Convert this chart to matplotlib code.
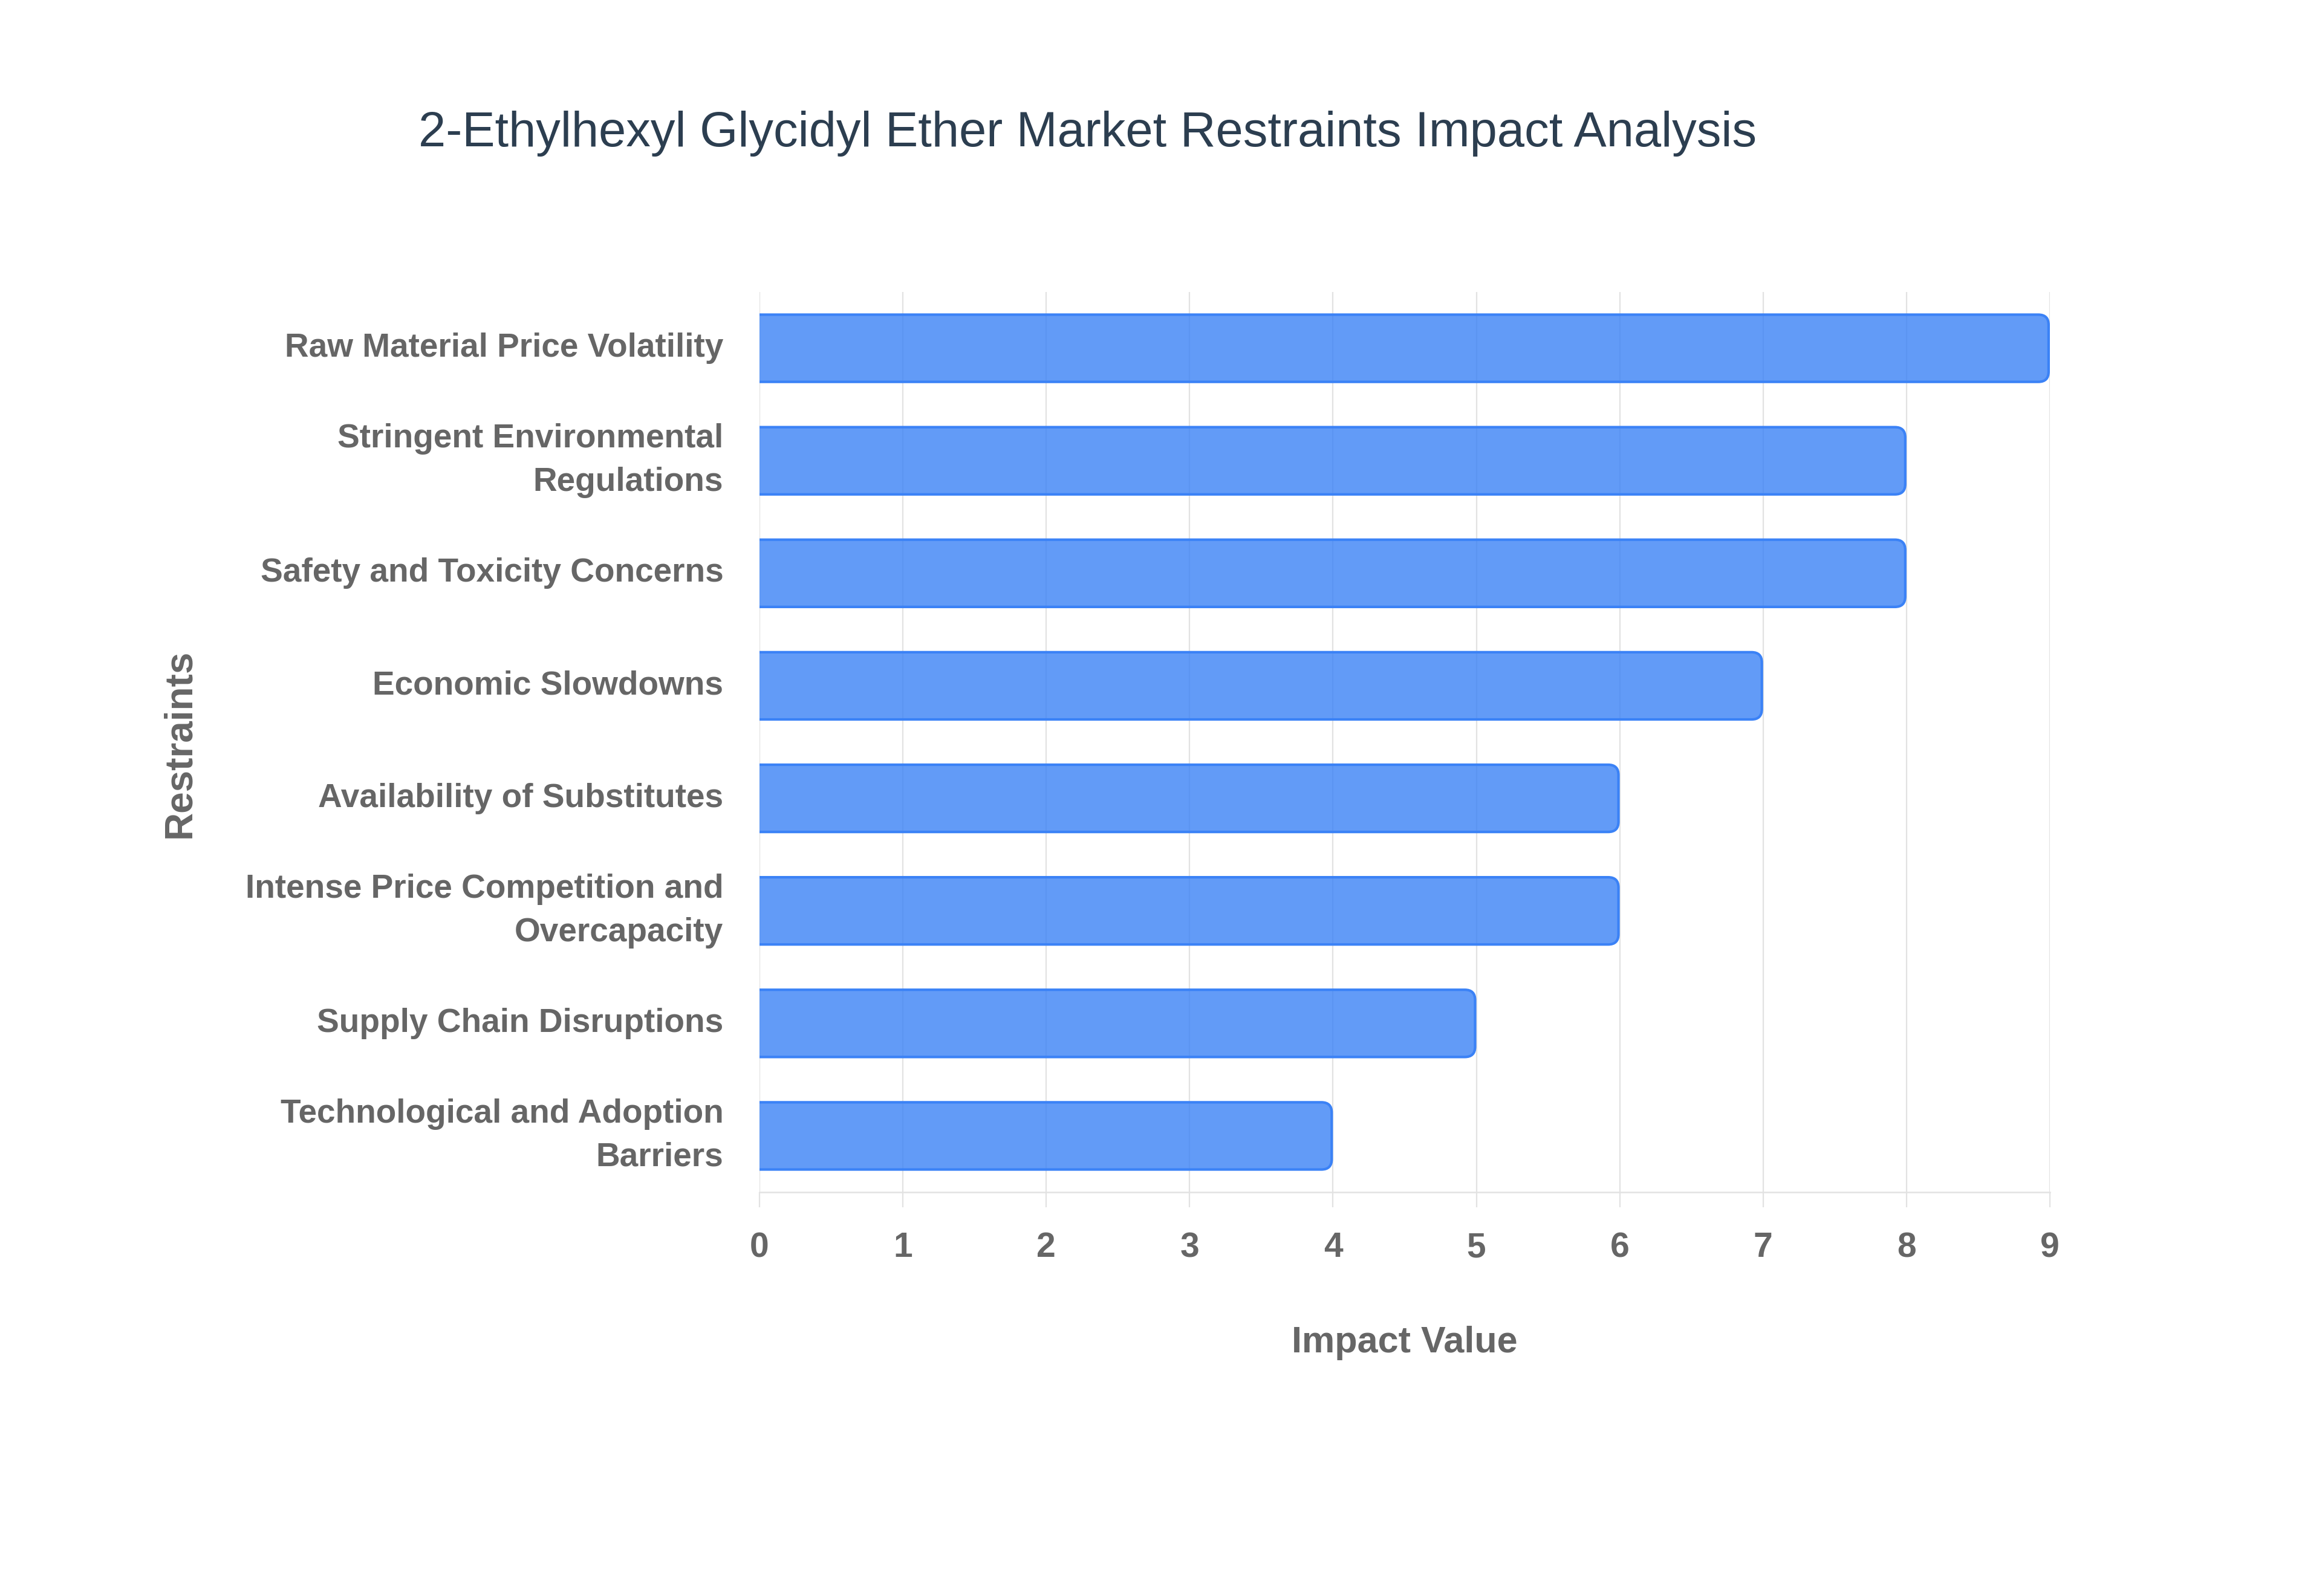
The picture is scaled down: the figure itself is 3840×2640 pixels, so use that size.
import matplotlib
matplotlib.use("Agg")
import matplotlib.pyplot as plt
from matplotlib.patches import FancyBboxPatch

# data (top to bottom)
restraints = [
    "Raw Material Price Volatility",
    "Stringent Environmental\nRegulations",
    "Safety and Toxicity Concerns",
    "Economic Slowdowns",
    "Availability of Substitutes",
    "Intense Price Competition and\nOvercapacity",
    "Supply Chain Disruptions",
    "Technological and Adoption\nBarriers",
]
impact = [9, 8, 8, 7, 6, 6, 5, 4]
x_ticks = list(range(0, 10))

title = "2-Ethylhexyl Glycidyl Ether Market Restraints Impact Analysis"
x_label = "Impact Value"
y_label = "Restraints"

FILL = (59 / 255, 130 / 255, 246 / 255, 0.8)
EDGE = "#3b82f6"
GRID = "#e2e2e2"
TEXT = "#666666"

plt.rcParams["font.family"] = ["Liberation Sans", "DejaVu Sans"]

W, H = 3840, 2640
fig = plt.figure(figsize=(W / 100, H / 100), dpi=100)
fig.patch.set_facecolor("white")

# plot area in pixels: x 1256..3390, y 483..1972
left, right, top, bottom = 1256, 3390, 483, 1972
ax = fig.add_axes([left / W, 1 - bottom / H, (right - left) / W, (bottom - top) / H])

ypos = list(range(len(restraints)))
bars = ax.barh(ypos, impact, height=0.62, color=FILL, edgecolor="none")

ax.set_xlim(0, 9)
ax.set_ylim(len(restraints) - 0.5, -0.5)

# rounded right end, square left end (left corners hidden by axes clip)
px_x = 9 / (right - left)
px_y = len(restraints) / (bottom - top)
lw_px = 4.2
radius = 17 * px_x
for b in bars:
    b.set_visible(False)
    x0, y0, w, h = b.get_x(), b.get_y(), b.get_width(), b.get_height()
    ix, iy = lw_px / 2 * px_x, lw_px / 2 * px_y
    patch = FancyBboxPatch(
        (x0 - 0.3, y0 + iy), w + 0.3 - ix, h - 2 * iy,
        boxstyle=f"round,pad=0,rounding_size={radius}",
        mutation_aspect=px_y / px_x,
        facecolor=FILL, edgecolor=EDGE, linewidth=lw_px * 0.72, zorder=2,
    )
    ax.add_patch(patch)

ax.set_axisbelow(True)
ax.set_xticks(x_ticks)
ax.set_xticklabels([str(t) for t in x_ticks])
ax.grid(axis="x", color=GRID, linewidth=1.6)
ax.grid(axis="y", visible=False)

ax.set_yticks(ypos)
ax.set_yticklabels(restraints, linespacing=1.5, va="center")

for s in ["top", "right", "left"]:
    ax.spines[s].set_visible(False)
ax.spines["bottom"].set_color(GRID)
ax.spines["bottom"].set_linewidth(1.8)

ax.tick_params(axis="x", length=18, width=1.6, color=GRID, pad=29,
               labelsize=41, labelcolor=TEXT)
ax.tick_params(axis="y", length=0, pad=43, labelsize=39.6, labelcolor=TEXT)
for lab in ax.get_xticklabels() + ax.get_yticklabels():
    lab.set_fontweight("bold")

fig.text(1799 / W, 1 - 242 / H, title, ha="center", va="baseline",
         fontsize=58.5, color="#2c3e50")
fig.text((left + right) / 2 / W, 1 - 2237 / H, x_label, ha="center",
         va="baseline", fontsize=44, fontweight="bold", color=TEXT)
fig.text(297 / W, 1 - 1230 / H, y_label, ha="center", va="center",
         rotation=90, fontsize=46, fontweight="bold", color=TEXT)

fig.savefig("out.png", dpi=100, facecolor="white")
